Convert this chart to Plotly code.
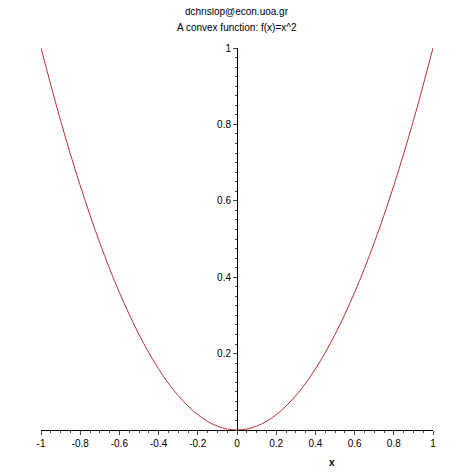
import plotly.graph_objects as go

x_vals = [-1.0, -0.9, -0.8, -0.7, -0.6, -0.5, -0.4, -0.3, -0.2, -0.1, 0.0,
          0.1, 0.2, 0.3, 0.4, 0.5, 0.6, 0.7, 0.8, 0.9, 1.0]
y_vals = [1.0, 0.81, 0.64, 0.49, 0.36, 0.25, 0.16, 0.09, 0.04, 0.01, 0.0,
          0.01, 0.04, 0.09, 0.16, 0.25, 0.36, 0.49, 0.64, 0.81, 1.0]
x_ticks = [-1, -0.8, -0.6, -0.4, -0.2, 0, 0.2, 0.4, 0.6, 0.8, 1]
x_labels = ["-1", "-0.8", "-0.6", "-0.4", "-0.2", "0", "0.2", "0.4", "0.6", "0.8", "1"]
y_ticks = [0.2, 0.4, 0.6, 0.8, 1]
y_labels = ["0.2", "0.4", "0.6", "0.8", "1"]

fig = go.Figure(go.Scatter(x=x_vals, y=y_vals, mode="lines", line=dict(color="#c03030", width=1, shape="spline")))
font = dict(family="Liberation Sans, Arial", size=10, color="black")
fig.update_layout(
    width=466, height=466, showlegend=False,
    paper_bgcolor="white", plot_bgcolor="white",
    margin=dict(l=33, r=41, t=40, b=44),
    font=font,
    xaxis=dict(range=[-1, 1], tickvals=x_ticks, ticktext=x_labels, showgrid=False, zeroline=False,
               showline=True, linecolor="black", linewidth=1, ticks="outside", ticklen=4,
               minor=dict(dtick=0.05, ticks="outside", ticklen=2), tickfont=dict(size=10)),
    yaxis=dict(range=[0, 1], tickvals=y_ticks, ticktext=y_labels, showgrid=False, zeroline=False,
               anchor="free", position=0.5,
               showline=True, linecolor="black", linewidth=1, ticks="outside", ticklen=4,
               minor=dict(dtick=0.025, ticks="outside", ticklen=2), tickfont=dict(size=10)),
    annotations=[
        dict(text="dchrislop@econ.uoa.gr", xref="paper", yref="paper", x=0.5, y=1.095, yanchor="middle", showarrow=False),
        dict(text="A convex function: f(x)=x^2", xref="paper", yref="paper", x=0.5, y=1.054, yanchor="middle", showarrow=False),
        dict(text="<b>x</b>", xref="paper", yref="paper", x=0.755, y=-0.085, yanchor="middle", showarrow=False),
    ],
)
fig.write_html("out.html")
